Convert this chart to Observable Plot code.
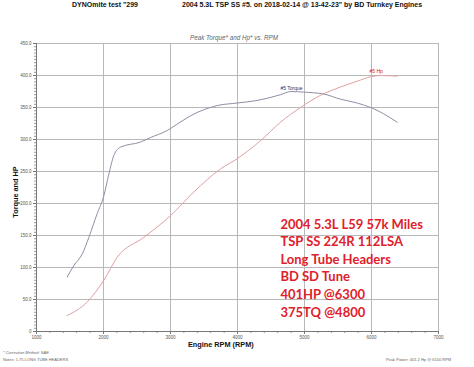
<!DOCTYPE html>
<html><head><meta charset="utf-8">
<script src="https://cdn.jsdelivr.net/npm/d3@7"></script>
<script src="https://cdn.jsdelivr.net/npm/@observablehq/plot@0.6"></script>
<style>
body{margin:0;background:#fff;}
#wrap{position:relative;width:474px;height:367px;font-family:"Liberation Sans",Arial,sans-serif;}
.t{position:absolute;white-space:nowrap;line-height:1;}
</style></head><body>
<div id="wrap"></div>
<script>
const torqueRpm = [1458,1557,1682,1781,1905,2005,2080,2154,2254,2552,2701,2950,3100,3299,3697,3995,4294,4642,4800,4990,5288,5537,5786,6010,6184,6383];
const torqueVal = [85,103,121,147,184,212,246,275,288,296,303,314,324,337,353,357,361,370,375,374,371,363,357,349,340,327];
const hpRpm = [1458,1756,2005,2204,2601,3000,3348,3746,3995,4343,4642,4940,5239,5537,5786,5985,6134,6383];
const hpVal = [25,46,80,116,147,181,218,254,270,298,327,350,369,382,391,398,400,399];
const xTicks = [1000,2000,3000,4000,5000,6000,7000];
const yTicks = [0,50,100,150,200,250,300,350,400,450];
const notes = ["2004 5.3L L59 57k Miles","TSP SS 224R 112LSA","Long Tube Headers","BD SD Tune","401HP @6300","375TQ @4800"];

const torque = torqueRpm.map((r,i)=>({rpm:r,v:torqueVal[i]}));
const hp = hpRpm.map((r,i)=>({rpm:r,v:hpVal[i]}));
const xMinor = d3.range(1000,7001,200);
const yMinor = d3.range(0,451,5);

const chart = Plot.plot({
  width:474, height:367,
  marginLeft:36, marginRight:36, marginTop:43, marginBottom:36,
  style:{fontFamily:"'Liberation Sans',Arial,sans-serif", background:"#fff"},
  x:{domain:[1000,7000], label:null},
  y:{domain:[0,450], label:null},
  marks:[
    Plot.gridX(xTicks.slice(1), {stroke:"#b8b8b8", strokeOpacity:1, strokeWidth:1}),
    Plot.gridY(yTicks.slice(1), {stroke:"#b8b8b8", strokeOpacity:1, strokeWidth:1}),
    Plot.axisX(xMinor, {tickSize:2, stroke:"#999", text:null, label:null}),
    Plot.axisY(yMinor, {tickSize:2, stroke:"#999", text:null, label:null}),
    Plot.axisX(xTicks, {tickSize:3, stroke:"#777", fontSize:4.5, fill:"#555", tickPadding:1, tickFormat:d=>String(d), label:null}),
    Plot.axisY(yTicks, {tickSize:3, stroke:"#777", fontSize:4.5, fill:"#555", tickPadding:2, tickFormat:d=>d===0?"0":d.toFixed(1), label:null}),
    Plot.ruleY([0], {stroke:"#777"}),
    Plot.ruleX([1000], {stroke:"#777"}),
    Plot.line(torque, {x:"rpm", y:"v", stroke:"#8e8fa6", strokeWidth:1, curve:"monotone-x"}),
    Plot.line(hp, {x:"rpm", y:"v", stroke:"#e0a0a0", strokeWidth:1, curve:"monotone-x"}),
    Plot.text([{rpm:4640,v:375}], {x:"rpm", y:"v", text:()=>"#5 Torque", fill:"#2a2f6e", fontSize:5, textAnchor:"start", dy:-3}),
    Plot.text([{rpm:5970,v:402}], {x:"rpm", y:"v", text:()=>"#5 Hp", fill:"#d02030", fontSize:5, textAnchor:"start", dy:-3}),
    Plot.text([notes.join("\n")], {x:()=>4640, y:()=>180, text:d=>d, fill:"#e0202a", fontSize:13, fontWeight:"bold", lineHeight:1.35, lineAnchor:"top", textAnchor:"start", fontFamily:"Lato, 'Open Sans', sans-serif"})
  ]
});
const wrap = document.getElementById("wrap");
wrap.appendChild(chart);
function addT(txt, css){const d=document.createElement("div");d.className="t";d.textContent=txt;d.style.cssText+=css;wrap.appendChild(d);}
addT('DYNOmite test "299', "left:72px;top:1px;font-size:7px;font-weight:bold;color:#111;");
addT('2004 5.3L TSP SS #5. on 2018-02-14 @ 13-42-23" by BD Turnkey Engines', "left:182px;top:1px;font-size:7px;font-weight:bold;color:#111;");
addT('Peak Torque* and Hp* vs. RPM', "left:190px;top:35px;font-size:6.3px;font-style:italic;color:#666;");
addT('Engine RPM (RPM)', "left:188px;top:341px;font-size:7.3px;font-weight:bold;color:#111;");
addT('Torque and HP', "left:-7px;top:191px;font-size:7.3px;font-weight:bold;color:#111;transform:rotate(-90deg);transform-origin:center;width:46px;text-align:center;");
addT('* Correction Method: SAE', "left:3px;top:351px;font-size:4px;font-style:italic;color:#666;");
addT('Notes: 1.75 LONG TUBE HEADERS', "left:3px;top:358px;font-size:4px;color:#666;");
addT('Peak Power: 401.2 Hp @ 6100 RPM', "left:386px;top:358px;font-size:4px;color:#666;");
</script></body></html>
